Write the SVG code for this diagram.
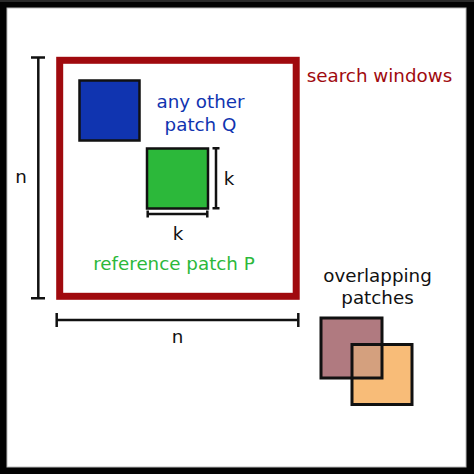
<svg xmlns="http://www.w3.org/2000/svg" width="474" height="474" viewBox="0 0 474 474">
  <style>
    text { font-family: "DejaVu Sans", "Liberation Sans", sans-serif; font-size: 18.3px; text-anchor: middle; }
    .dim { stroke: #111; stroke-width: 2.5; fill: none; }
    .patch { stroke: #111; stroke-width: 2.5; }
    .outline { stroke: #111; stroke-width: 3; fill: none; }
  </style>
  <rect x="0" y="0" width="474" height="474" fill="#030303"/>
  <rect x="0" y="0" width="474" height="2" fill="#2a2a2a"/>
  <rect x="7" y="8" width="459" height="459" fill="#ffffff" stroke="#bbbbbb" stroke-width="1"/>

  <g id="search-window">
    <rect x="59.7" y="60.3" width="236.5" height="236" fill="none" stroke="#a00a0e" stroke-width="7"/>
    <text x="379.5" y="82" fill="#a00a0e">search windows</text>
  </g>

  <g id="patch-Q">
    <rect class="patch" x="79.5" y="80.5" width="60" height="60" fill="#1034b0"/>
    <text x="200.5" y="108" fill="#1034b0">any other</text>
    <text x="200.5" y="131" fill="#1034b0">patch Q</text>
  </g>

  <g id="patch-P">
    <rect class="patch" x="147" y="148.5" width="61" height="60" fill="#2cb83a"/>
    <text x="174" y="270" fill="#2cb83a">reference patch P</text>
  </g>

  <g id="overlapping">
    <rect x="321" y="318" width="61" height="60" fill="#b07a80"/>
    <rect x="352" y="344.5" width="60" height="60" fill="#f8bc78"/>
    <rect x="352" y="344.5" width="30" height="33.5" fill="#d4a07e"/>
    <rect class="outline" x="321" y="318" width="61" height="60"/>
    <rect class="outline" x="352" y="344.5" width="60" height="60"/>
    <text x="377.5" y="282" fill="#111">overlapping</text>
    <text x="377.5" y="304" fill="#111">patches</text>
  </g>

  <g id="connectors">
    <path class="dim" d="M38.3 57.5 V298.3 M31 57.5 H45 M31 298.3 H45"/>
    <path class="dim" d="M56.7 320 H298.3 M56.7 313 V327 M298.3 313 V327"/>
    <path class="dim" d="M216 148.3 V208.3 M212.5 148.3 H219.5 M212.5 208.3 H219.5"/>
    <path class="dim" d="M147.7 214 H207.3 M147.7 210.5 V217.5 M207.3 210.5 V217.5"/>
  </g>

  <g id="labels">
    <text x="21" y="183" fill="#111">n</text>
    <text x="177.5" y="343" fill="#111">n</text>
    <text x="229" y="185" fill="#111">k</text>
    <text x="178" y="240" fill="#111">k</text>
  </g>
</svg>
